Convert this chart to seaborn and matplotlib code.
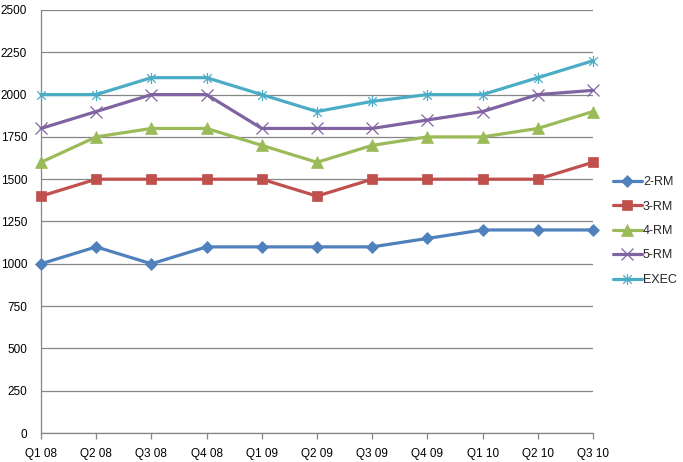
import matplotlib
matplotlib.use("Agg")
import matplotlib.pyplot as plt
from matplotlib.path import Path
import seaborn as sns
import numpy as np
import pandas as pd

quarters = ["Q1 08", "Q2 08", "Q3 08", "Q4 08", "Q1 09", "Q2 09",
            "Q3 09", "Q4 09", "Q1 10", "Q2 10", "Q3 10"]

rm2 = [1000, 1100, 1000, 1100, 1100, 1100, 1100, 1150, 1200, 1200, 1200]
rm3 = [1400, 1500, 1500, 1500, 1500, 1400, 1500, 1500, 1500, 1500, 1600]
rm4 = [1600, 1750, 1800, 1800, 1700, 1600, 1700, 1750, 1750, 1800, 1900]
rm5 = [1800, 1900, 2000, 2000, 1800, 1800, 1800, 1850, 1900, 2000, 2025]
exec_ = [2000, 2000, 2100, 2100, 2000, 1900, 1960, 2000, 2000, 2100, 2200]

series_names = ["2-RM", "3-RM", "4-RM", "5-RM", "EXEC"]
series_values = [rm2, rm3, rm4, rm5, exec_]

# excel 2007 palette
colors = ["#4F81BD", "#C0504D", "#9BBB59", "#8064A2", "#4BACC6"]

# excel style asterisk: an x with a vertical bar through it
asterisk = Path(
    [(-1, -1), (1, 1), (-1, 1), (1, -1), (0, -1.3), (0, 1.3)],
    [Path.MOVETO, Path.LINETO, Path.MOVETO, Path.LINETO, Path.MOVETO, Path.LINETO],
)
markers = ["D", "s", "^", "x", asterisk]
marker_sizes = [6.5, 7.5, 8, 8, 8]

sns.set_theme(style="white")
plt.rcParams["font.family"] = ["Liberation Sans", "DejaVu Sans"]

fig = plt.figure(figsize=(6.83, 4.62), dpi=100)
ax = fig.add_axes([41 / 683, 1 - 433 / 462, (593 - 41) / 683, (433 - 10) / 462])

x_pos = np.arange(len(quarters))
for name, vals, col, mk, ms in zip(series_names, series_values, colors, markers, marker_sizes):
    df = pd.DataFrame({"x": x_pos, "y": vals})
    line_kw = dict(marker=mk, markersize=ms, color=col, linewidth=2.3,
                   markeredgecolor=col, markerfacecolor=col)
    if mk == "x" or isinstance(mk, Path):
        line_kw["markeredgewidth"] = 0.9
    else:
        line_kw["markeredgewidth"] = 0.5
    sns.lineplot(data=df, x="x", y="y", ax=ax, label=name, sort=False,
                 clip_on=False, zorder=3, **line_kw)

ax.set_xlim(0, len(quarters) - 1)
ax.set_ylim(0, 2500)
ax.set_yticks(np.arange(0, 2501, 250))
ax.set_xticks(x_pos)
ax.set_xticklabels(quarters)
ax.set_xlabel("")
ax.set_ylabel("")

ax.yaxis.grid(True, color="#868686", linewidth=0.9)
ax.xaxis.grid(False)
for side in ["top", "right"]:
    ax.spines[side].set_visible(False)
for side in ["left", "bottom"]:
    ax.spines[side].set_color("#868686")
    ax.spines[side].set_linewidth(0.9)

ax.tick_params(axis="y", length=0, pad=10, labelsize=8.5, colors="black")
ax.tick_params(axis="x", direction="out", length=4, width=0.9, color="#868686",
               pad=7, labelsize=8.5, labelcolor="black", bottom=True)

ax.legend(loc="center left", bbox_to_anchor=(613 / 683, 1 - 231 / 462),
          bbox_transform=fig.transFigure, frameon=False, fontsize=9,
          handlelength=2.3, handletextpad=0.1, labelspacing=1.0,
          borderpad=0, borderaxespad=0)

fig.savefig("out.png", dpi=100)
